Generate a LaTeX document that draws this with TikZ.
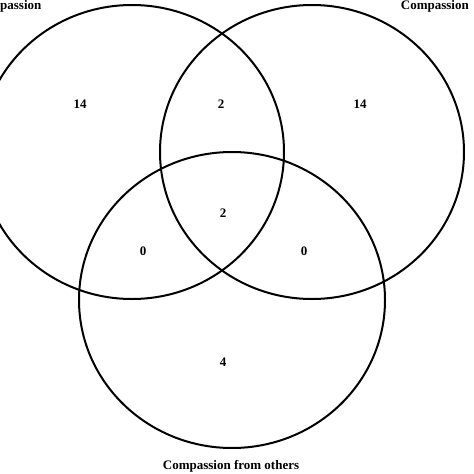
\documentclass[tikz,border=0pt]{standalone}
\usepackage{fontspec}
\setmainfont{Liberation Serif}
\begin{document}
\begin{tikzpicture}[x=1pt,y=-1pt,
  setline/.style={line width=2pt,black},
  lbl/.style={font=\fontsize{13}{15}\selectfont\bfseries,inner sep=0pt}]
\useasboundingbox (0,0) rectangle (474,474);
\clip (0,0) rectangle (474,474);
\fill[white] (0,0) rectangle (474,474);
\draw[setline] (132,152) ellipse [x radius=152pt, y radius=147pt];
\draw[setline] (312,152) ellipse [x radius=152pt, y radius=147pt];
\draw[setline] (232,300) ellipse [x radius=153pt, y radius=148pt];
\node[lbl,anchor=west] (tl) at (0,6) {passion};
\node[lbl,anchor=east] (tr) at (469,6) {Compassion};
\node[lbl] (bt) at (231,466) {Compassion from others};
\node[lbl] (a) at (80,104) {14};
\node[lbl] (ab) at (221,104) {2};
\node[lbl] (b) at (360,104) {14};
\node[lbl] (abc) at (223,213) {2};
\node[lbl] (ac) at (143,251) {0};
\node[lbl] (bc) at (304,251) {0};
\node[lbl] (c) at (223,362) {4};
\end{tikzpicture}
\end{document}
